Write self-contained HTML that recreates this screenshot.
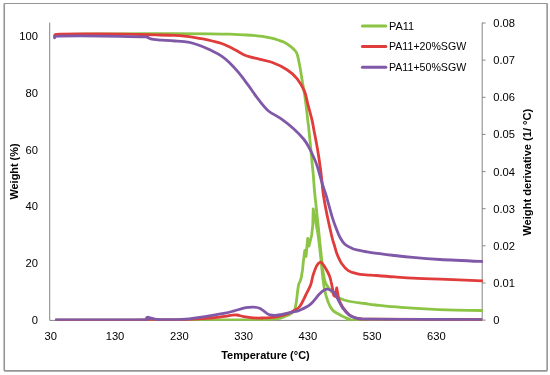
<!DOCTYPE html>
<html><head><meta charset="utf-8"><title>TGA chart</title>
<style>html,body{margin:0;padding:0;background:#fff;}body{width:550px;height:375px;position:relative;overflow:hidden;}.t{font-family:"Liberation Sans",sans-serif;fill:#000;}</style>
</head><body>
<svg width="550" height="375" viewBox="0 0 550 375" style="position:absolute;left:0;top:0">
<rect x="4.25" y="3.3" width="542.9" height="367.6" rx="0.8" fill="#fff" stroke="#959595" stroke-width="1.6"/>
<rect x="0" y="0" width="550" height="3" fill="#fff"/>
<path d="M49.7,22.6V320.4H482.2V22.8" fill="none" stroke="#868686" stroke-width="1"/>
<clipPath id="pa"><rect x="49" y="20" width="434" height="300.7"/></clipPath>
<g clip-path="url(#pa)"><path d="M54.5,36.3C54.6,36.1 54.4,35.5 55.3,35.2C56.2,34.9 55.9,34.8 60.0,34.6C64.1,34.4 70.0,34.3 80.0,34.2C90.0,34.1 105.0,33.9 120.0,33.8C135.0,33.7 155.0,33.6 170.0,33.6C185.0,33.6 200.8,33.8 210.0,33.9C219.2,34.0 220.9,34.0 225.0,34.1C229.1,34.2 231.2,34.2 234.3,34.3C237.4,34.4 240.6,34.6 243.7,34.8C246.8,35.0 249.9,35.1 253.0,35.4C256.1,35.7 259.2,35.9 262.3,36.4C265.4,36.9 269.0,37.5 271.6,38.1C274.2,38.7 276.0,39.3 278.0,40.0C280.0,40.7 281.5,41.0 283.7,42.1C285.9,43.2 289.1,45.2 291.1,46.8C293.1,48.4 294.7,50.0 295.8,51.5C296.9,53.0 297.1,53.9 297.7,56.1C298.3,58.4 298.8,60.8 299.6,65.0C300.4,69.2 301.3,75.4 302.3,81.2C303.3,87.0 304.5,93.5 305.4,100.0C306.3,106.5 307.2,115.4 307.8,120.4C308.4,125.4 308.4,124.9 308.9,130.0C309.4,135.1 310.5,145.4 311.0,150.9C311.5,156.4 311.7,158.8 312.1,163.0C312.5,167.2 313.0,171.5 313.4,176.3C313.8,181.1 314.1,186.7 314.6,192.0C315.1,197.3 315.7,202.0 316.3,208.0C316.9,214.0 317.8,222.7 318.4,228.0C318.9,233.3 319.2,236.3 319.6,240.0C320.0,243.7 320.3,246.3 320.7,250.0C321.1,253.7 321.5,258.7 321.9,262.0C322.2,265.3 322.3,266.8 322.8,270.0C323.3,273.2 324.0,278.4 325.0,281.5C326.0,284.6 327.4,286.2 329.0,288.5C330.6,290.8 332.9,293.3 334.9,295.0C336.9,296.7 338.3,297.7 340.8,298.8C343.3,299.9 346.0,300.7 350.0,301.5C354.0,302.3 360.8,302.9 365.0,303.5C369.2,304.1 369.4,304.4 375.4,305.0C381.4,305.6 390.3,306.6 400.9,307.4C411.5,308.2 425.4,309.1 439.0,309.6C452.6,310.1 475.0,310.4 482.2,310.5" fill="none" stroke="#8CC445" stroke-width="2.8" stroke-linecap="round" stroke-linejoin="round"/>
<path d="M55.3,320.2C86.1,320.2 204.2,320.1 240.0,320.0C275.8,319.9 263.3,319.7 270.0,319.4C276.7,319.1 277.5,318.8 280.0,318.3C282.5,317.8 283.3,317.1 285.0,316.4C286.7,315.7 288.7,315.1 290.0,314.3C291.3,313.5 292.2,312.7 293.0,311.8C293.8,310.9 294.3,310.6 294.9,309.0C295.4,307.4 295.9,304.5 296.3,302.0C296.7,299.5 297.0,296.5 297.3,294.0C297.6,291.5 297.9,288.7 298.2,287.0C298.4,285.3 298.7,284.5 298.8,284.0L300.2,281.0L301.3,277.5L302.5,270.0L303.3,262.0L304.8,250.5L306.0,256.5L307.7,238.5L309.0,246.0L310.5,240.0L311.7,235.0L312.8,225.0L313.2,209.0L314.6,215.0L316.3,225.0L318.1,235.0L319.5,246.0L320.7,257.0L321.8,268.0L322.3,273.0L322.3,273.0C322.6,275.6 323.4,283.5 324.3,288.3C325.2,293.1 326.6,298.0 328.0,301.7C329.4,305.4 330.8,308.2 332.7,310.3C334.6,312.4 337.3,313.3 339.3,314.5C341.3,315.7 342.9,316.5 344.7,317.3C346.5,318.1 347.4,318.8 350.0,319.3C352.6,319.8 338.0,320.1 360.0,320.2C382.0,320.3 461.8,320.2 482.2,320.2" fill="none" stroke="#8CC445" stroke-width="2.8" stroke-linecap="butt" stroke-linejoin="round"/>
<path d="M54.6,35.8C54.8,35.6 54.5,35.0 55.5,34.7C56.5,34.4 53.1,34.3 60.5,34.2C67.9,34.1 86.8,33.9 100.0,33.9C113.2,33.9 130.0,34.3 140.0,34.5C150.0,34.7 154.2,34.9 160.0,35.0C165.8,35.1 170.9,35.2 175.0,35.4C179.1,35.6 181.2,35.8 184.3,36.1C187.4,36.4 190.6,36.8 193.7,37.3C196.8,37.8 199.9,38.3 203.0,38.9C206.1,39.5 209.2,40.2 212.3,41.0C215.4,41.8 218.9,42.6 221.6,43.5C224.3,44.4 226.3,45.4 228.7,46.5C231.1,47.6 233.6,49.0 236.0,50.3C238.4,51.6 241.0,53.3 243.3,54.4C245.6,55.5 247.2,56.0 250.0,56.8C252.8,57.6 256.4,58.4 260.0,59.3C263.6,60.2 267.3,60.6 271.8,62.3C276.3,64.0 282.8,67.0 287.0,69.7C291.2,72.4 294.1,75.0 297.0,78.6C299.9,82.2 302.7,87.1 304.5,91.3C306.3,95.5 306.5,99.2 307.8,104.0C309.1,108.8 311.1,116.1 312.1,120.4C313.1,124.7 313.2,126.6 313.9,130.0C314.5,133.4 315.1,135.9 316.0,140.7C316.9,145.4 318.4,154.4 319.0,158.5C319.6,162.6 319.5,162.0 319.9,165.0C320.3,168.0 320.8,171.3 321.4,176.3C322.0,181.3 322.4,188.4 323.4,195.0C324.4,201.6 325.7,208.6 327.2,215.8C328.7,223.0 331.0,233.1 332.2,238.0C333.4,242.9 333.5,242.3 334.3,245.0C335.1,247.7 335.9,251.2 337.1,254.3C338.4,257.4 339.9,261.0 341.8,263.7C343.7,266.4 345.7,269.0 348.3,270.7C350.9,272.4 354.7,273.2 357.6,273.9C360.6,274.6 362.9,274.5 366.0,274.8C369.1,275.1 371.6,275.1 376.4,275.5C381.1,275.9 388.4,276.5 394.5,276.9C400.6,277.3 405.1,277.7 412.7,278.1C420.3,278.5 428.4,278.8 440.0,279.2C451.6,279.6 475.2,280.5 482.2,280.8" fill="none" stroke="#E03C3C" stroke-width="2.8" stroke-linecap="round" stroke-linejoin="round"/>
<path d="M55.3,320.2C70.4,320.2 130.6,320.4 146.0,320.0C161.4,319.6 147.2,318.1 148.0,318.0C148.8,317.9 149.0,319.0 151.0,319.3C153.0,319.6 154.3,319.8 160.0,319.8C165.7,319.9 176.9,319.9 185.4,319.6C193.9,319.3 204.3,318.5 210.9,318.0C217.5,317.5 221.5,316.9 225.0,316.4C228.5,315.9 230.0,315.4 232.0,315.2C234.0,315.0 234.9,314.8 236.8,315.0C238.8,315.2 241.0,316.1 243.7,316.6C246.4,317.1 249.9,317.7 253.0,317.9C256.1,318.1 258.7,318.1 262.3,318.0C265.9,317.9 270.4,317.9 274.5,317.2C278.6,316.5 284.0,315.0 287.2,313.9C290.4,312.8 291.7,311.9 293.8,310.7C295.9,309.5 297.7,309.1 299.7,306.5C301.7,303.9 304.0,298.6 305.8,295.0C307.6,291.4 309.5,288.0 310.7,284.7C311.9,281.4 312.1,278.4 313.0,275.4C313.9,272.4 315.3,268.7 316.2,266.7C317.1,264.7 317.8,264.0 318.6,263.2C319.4,262.4 320.0,261.8 320.9,262.1C321.8,262.4 322.7,263.7 323.7,265.2C324.7,266.7 326.2,269.3 327.1,271.0C328.0,272.7 328.6,273.6 329.3,275.4C330.0,277.2 330.4,278.3 331.1,281.7C331.9,285.1 333.4,293.2 333.8,295.5L335.1,296.5L336.7,288.0L338.3,297.0L338.3,297.0C338.5,297.6 338.6,298.9 339.4,300.8C340.2,302.7 341.6,305.9 343.3,308.2C345.0,310.5 347.4,313.2 349.3,314.8C351.2,316.4 353.0,317.1 355.0,317.8C357.0,318.5 359.0,318.7 361.5,318.9C364.0,319.1 349.9,319.1 370.0,319.2C390.1,319.3 463.5,319.5 482.2,319.6" fill="none" stroke="#E03C3C" stroke-width="2.8" stroke-linecap="butt" stroke-linejoin="round"/>
<path d="M54.6,37.8C54.7,37.6 54.5,37.0 55.1,36.7C55.7,36.4 53.9,36.3 58.0,36.2C62.1,36.1 69.7,35.9 80.0,35.9C90.3,35.9 109.2,36.1 120.0,36.3C130.8,36.5 140.3,36.7 145.0,36.9C149.7,37.1 146.8,37.3 148.0,37.7C149.2,38.1 150.3,38.9 152.0,39.2C153.7,39.6 155.8,39.6 158.0,39.8C160.2,40.0 162.2,40.1 165.0,40.3C167.8,40.5 171.8,40.8 175.0,41.0C178.2,41.2 181.2,41.3 184.3,41.7C187.4,42.1 190.6,42.6 193.7,43.5C196.8,44.4 199.9,45.5 203.0,46.8C206.1,48.0 209.2,49.5 212.3,51.0C215.4,52.5 218.8,54.2 221.6,56.1C224.4,58.0 226.5,59.7 229.3,62.5C232.2,65.3 235.6,69.0 238.7,72.7C241.8,76.4 245.6,81.7 248.0,84.9C250.4,88.1 251.2,89.5 253.0,92.0C254.8,94.5 256.5,97.1 259.0,100.2C261.5,103.3 264.6,107.6 268.2,110.7C271.8,113.8 276.7,115.6 280.9,118.6C285.1,121.6 289.8,125.2 293.6,128.7C297.5,132.2 301.3,136.2 304.0,139.5C306.7,142.8 307.9,145.6 309.6,148.7C311.3,151.8 312.8,155.2 314.0,158.0C315.2,160.8 316.1,162.8 317.0,165.5C317.9,168.2 318.5,170.6 319.5,174.0C320.5,177.4 321.9,182.5 323.0,186.0C324.1,189.5 324.5,190.0 326.0,195.0C327.5,200.0 330.1,210.1 331.8,215.8C333.6,221.5 335.1,225.7 336.5,229.3C337.9,233.0 338.8,235.2 340.2,237.7C341.6,240.2 342.9,242.5 344.9,244.3C346.9,246.1 350.1,247.5 352.3,248.5C354.5,249.5 356.2,249.7 358.3,250.2C360.4,250.7 362.2,251.0 365.0,251.5C367.8,252.0 370.1,252.5 375.0,253.2C379.9,253.9 388.2,254.8 394.5,255.5C400.8,256.2 405.1,256.7 412.7,257.4C420.3,258.1 428.4,258.8 440.0,259.5C451.6,260.2 475.2,261.2 482.2,261.5" fill="none" stroke="#8058A8" stroke-width="2.8" stroke-linecap="round" stroke-linejoin="round"/>
<path d="M55.3,320.0C62.8,320.0 85.0,319.9 100.0,319.9C115.0,319.8 137.6,320.0 145.3,319.7C153.1,319.4 146.1,318.4 146.5,318.0C146.9,317.6 147.2,317.1 147.8,317.1C148.4,317.1 149.0,317.6 150.0,317.9C151.0,318.2 152.3,318.6 154.0,318.9C155.7,319.2 154.8,319.6 160.0,319.6C165.2,319.6 176.9,319.8 185.4,319.1C193.9,318.4 204.3,316.6 210.9,315.6C217.5,314.6 221.1,314.0 225.0,313.2C228.9,312.4 231.2,311.7 234.3,310.9C237.4,310.1 241.2,308.8 243.7,308.2C246.1,307.6 247.4,307.5 249.0,307.3C250.6,307.1 251.8,307.0 253.5,307.1C255.2,307.2 257.7,307.5 259.5,308.2C261.3,308.9 262.6,310.2 264.2,311.3C265.8,312.4 267.0,313.8 268.8,314.5C270.6,315.2 272.8,315.4 275.0,315.4C277.2,315.4 279.2,314.9 282.1,314.4C285.0,313.9 289.4,312.9 292.3,312.2C295.2,311.5 296.8,311.5 299.7,310.2C302.6,308.9 306.8,307.2 310.0,304.6C313.2,302.0 316.9,296.7 319.2,294.3C321.5,291.9 322.1,291.2 323.6,290.4C325.1,289.5 326.3,288.8 328.0,289.2C329.7,289.6 332.2,290.7 334.0,292.6C335.8,294.5 337.2,298.2 338.7,300.8C340.2,303.4 341.1,305.9 342.8,308.2C344.5,310.5 346.9,313.2 348.9,314.8C350.9,316.4 352.6,316.9 354.6,317.6C356.6,318.3 358.6,318.6 361.0,318.8C363.4,319.1 362.5,319.0 369.0,319.1C375.5,319.2 381.1,319.2 400.0,319.3C418.9,319.4 468.5,319.6 482.2,319.7" fill="none" stroke="#8058A8" stroke-width="2.8" stroke-linecap="butt" stroke-linejoin="round"/></g>
<path d="M482,23.0h3.6M482,60.1h3.6M482,97.3h3.6M482,134.4h3.6M482,171.6h3.6M482,208.7h3.6M482,245.8h3.6M482,283.0h3.6M482,320.1h3.6" fill="none" stroke="#868686" stroke-width="1"/>
<path d="M362.4,26H385.8" stroke="#8CC445" stroke-width="3" stroke-linecap="round"/>
<path d="M362.4,46.4H385.8" stroke="#E03C3C" stroke-width="3" stroke-linecap="round"/>
<path d="M362.4,67.2H385.8" stroke="#8058A8" stroke-width="3" stroke-linecap="round"/>
<text x="389" y="30.0" font-size="11.2" textLength="25.2" lengthAdjust="spacingAndGlyphs" class="t">PA11</text>
<text x="389" y="50.4" font-size="11.2" textLength="77.2" lengthAdjust="spacingAndGlyphs" class="t">PA11+20%SGW</text>
<text x="389" y="71.2" font-size="11.2" textLength="77.2" lengthAdjust="spacingAndGlyphs" class="t">PA11+50%SGW</text>
<text x="38" y="324.1" font-size="11.2" text-anchor="end" class="t">0</text>
<text x="38" y="267.2" font-size="11.2" text-anchor="end" class="t">20</text>
<text x="38" y="210.4" font-size="11.2" text-anchor="end" class="t">40</text>
<text x="38" y="153.5" font-size="11.2" text-anchor="end" class="t">60</text>
<text x="38" y="96.7" font-size="11.2" text-anchor="end" class="t">80</text>
<text x="38" y="39.9" font-size="11.2" text-anchor="end" class="t">100</text>
<text x="493.2" y="324.1" font-size="11.2" class="t">0</text>
<text x="493.2" y="287.0" font-size="11.2" class="t">0.01</text>
<text x="493.2" y="249.8" font-size="11.2" class="t">0.02</text>
<text x="493.2" y="212.7" font-size="11.2" class="t">0.03</text>
<text x="493.2" y="175.5" font-size="11.2" class="t">0.04</text>
<text x="493.2" y="138.4" font-size="11.2" class="t">0.05</text>
<text x="493.2" y="101.3" font-size="11.2" class="t">0.06</text>
<text x="493.2" y="64.1" font-size="11.2" class="t">0.07</text>
<text x="493.2" y="27.0" font-size="11.2" class="t">0.08</text>
<text x="50.8" y="339.9" font-size="11.2" text-anchor="middle" class="t">30</text>
<text x="115.0" y="339.9" font-size="11.2" text-anchor="middle" class="t">130</text>
<text x="179.3" y="339.9" font-size="11.2" text-anchor="middle" class="t">230</text>
<text x="243.6" y="339.9" font-size="11.2" text-anchor="middle" class="t">330</text>
<text x="307.8" y="339.9" font-size="11.2" text-anchor="middle" class="t">430</text>
<text x="372.1" y="339.9" font-size="11.2" text-anchor="middle" class="t">530</text>
<text x="436.3" y="339.9" font-size="11.2" text-anchor="middle" class="t">630</text>
<text x="265.5" y="359.4" font-size="11" font-weight="bold" text-anchor="middle" class="t">Temperature (°C)</text>
<text transform="translate(18.2,171.5) rotate(-90)" font-size="10.9" font-weight="bold" text-anchor="middle" class="t">Weight (%)</text>
<text transform="translate(530.6,172.2) rotate(-90)" font-size="11.1" font-weight="bold" text-anchor="middle" class="t">Weight derivative (1/ °C)</text>
</svg>
</body></html>
